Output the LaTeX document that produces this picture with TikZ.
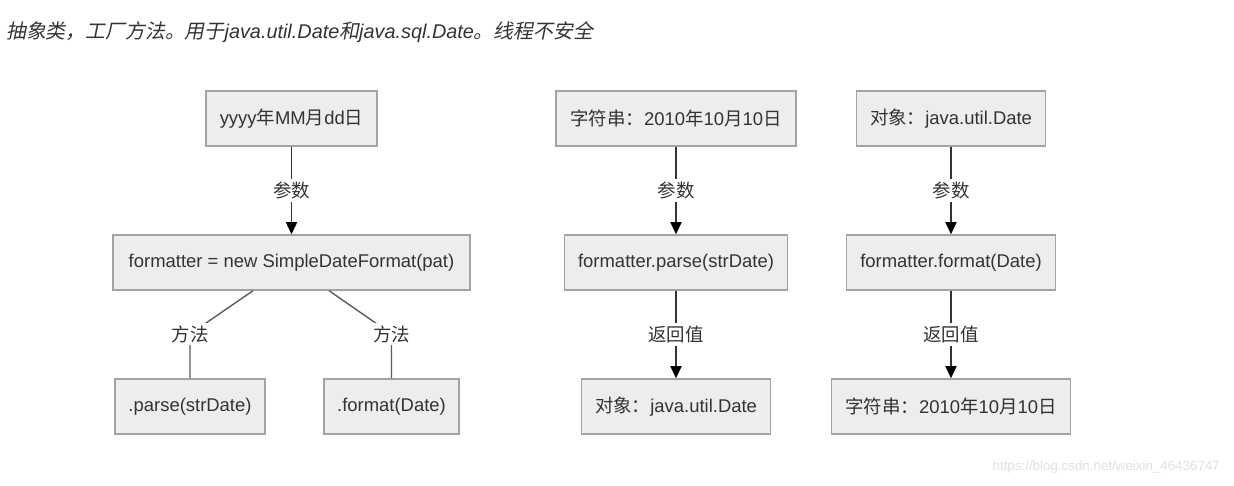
\documentclass[tikz,border=0pt]{standalone}
\usepackage{fontspec}
\setmainfont{Liberation Sans}
\newfontfamily\cjk{Noto Sans CJK SC}
\newfontfamily\cjkit{Noto Sans CJK SC}[FakeSlant=0.2]
\usetikzlibrary{arrows.meta}
\newcommand{\zh}[1]{{\cjk #1}}
\newcommand{\zhit}[1]{{\cjkit #1}}
\definecolor{boxfill}{HTML}{EDEDED}
\definecolor{boxline}{HTML}{A3A3A3}
\definecolor{ink}{HTML}{333333}

\begin{document}
\begin{tikzpicture}[x=0.02cm,y=-0.02cm,
  box/.style={draw=boxline,fill=boxfill,line width=0.8pt,minimum height=1.1cm,
    inner sep=0pt,text=ink,font=\fontsize{10.5}{12}\selectfont},
  link/.style={draw=ink,line width=0.8pt},
  arr/.style={link,-{Triangle[length=7pt,width=6.4pt,color=black]}},
  lab/.style={fill=white,inner sep=1.5pt,text=ink,font=\fontsize{10.5}{12}\selectfont}]
 \useasboundingbox[fill=white] (0,0) rectangle (1234,485);
 % title line
 \node[anchor=west,text=ink,font=\fontsize{11.3}{13}\selectfont\itshape] (title) at (0,32)
  {\zhit{抽象类，工厂方法。用于}java.util.Date\zhit{和}java.sql.Date\zhit{。线程不安全}};
 % pattern and its two methods
 \node[box,minimum width=3.42cm] (pat) at (291.5,118.5) {yyyy\zh{年}MM\zh{月}dd\zh{日}};
 \node[box,minimum width=7.14cm] (fmt) at (291.5,262.5) {formatter = new SimpleDateFormat(pat)};
 \node[box,minimum width=3.0cm] (parse) at (190,406.5) {.parse(strDate)};
 \node[box,minimum width=2.7cm] (format) at (391.5,406.5) {.format(Date)};
 \draw[arr] (pat.south) -- node[lab]{\zh{参数}} (fmt.north);
 \coordinate (bendl) at (190,334);
 \coordinate (bendr) at (391.5,334);
 \draw[link,draw=ink!80] ([xshift=-0.77cm]fmt.south) -- (bendl) -- (parse.north);
 \draw[link,draw=ink!80] ([xshift=0.75cm]fmt.south) -- (bendr) -- (format.north);
 \node[lab] (mthl) at (bendl) {\zh{方法}};
 \node[lab] (mthr) at (bendr) {\zh{方法}};
 % string to date
 \node[box,minimum width=4.8cm] (str) at (676,118.5) {\zh{字符串：}2010\zh{年}10\zh{月}10\zh{日}};
 \node[box,minimum width=4.46cm] (prs) at (676,262.5) {formatter.parse(strDate)};
 \node[box,minimum width=3.78cm] (obj) at (676,406.5) {\zh{对象：}java.util.Date};
 \draw[arr] (str.south) -- node[lab]{\zh{参数}} (prs.north);
 \draw[arr] (prs.south) -- node[lab]{\zh{返回值}} (obj.north);
 % date to string
 \node[box,minimum width=3.78cm] (obj2) at (951,118.5) {\zh{对象：}java.util.Date};
 \node[box,minimum width=4.18cm] (fmt2) at (951,262.5) {formatter.format(Date)};
 \node[box,minimum width=4.78cm] (str2) at (951,406.5) {\zh{字符串：}2010\zh{年}10\zh{月}10\zh{日}};
 \draw[arr] (obj2.south) -- node[lab]{\zh{参数}} (fmt2.north);
 \draw[arr] (fmt2.south) -- node[lab]{\zh{返回值}} (str2.north);
 % watermark
 \node[anchor=east,text=black!12,font=\fontsize{7.6}{9}\selectfont] (mark) at (1226,467)
  {https://blog.csdn.net/weixin\_46436747};
\end{tikzpicture}
\end{document}
